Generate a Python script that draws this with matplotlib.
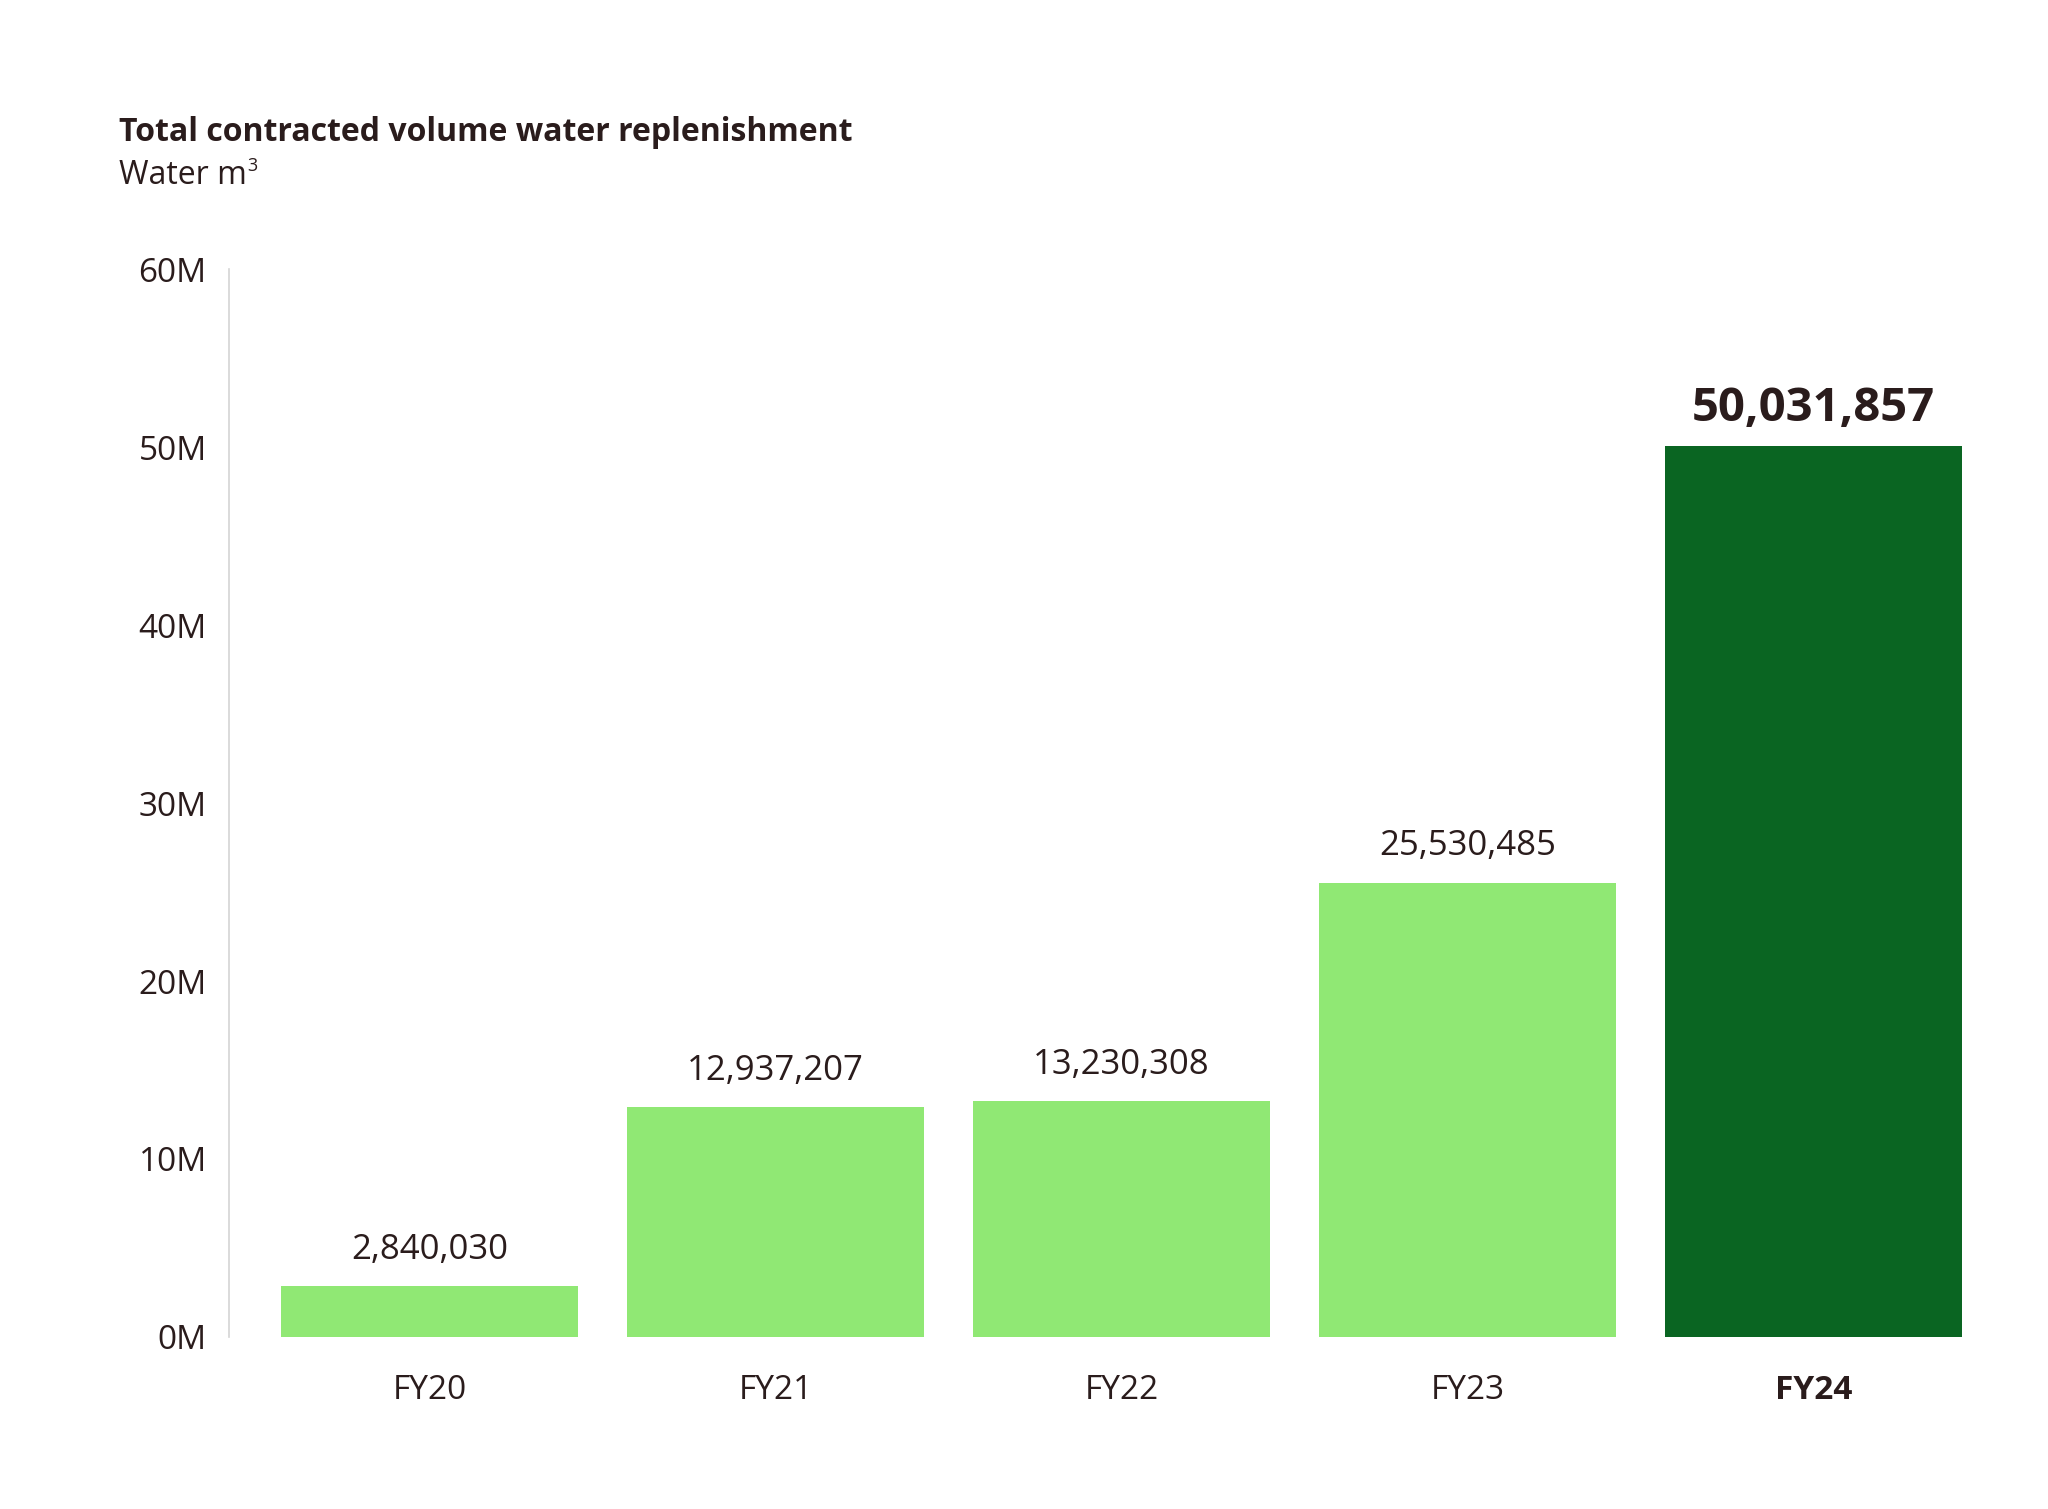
import numpy as np
import matplotlib
matplotlib.use('Agg')
import matplotlib.pyplot as plt
from matplotlib.ticker import FuncFormatter

plt.rcParams['font.family'] = ['Open Sans', 'DejaVu Sans']

# data
years = ['FY20', 'FY21', 'FY22', 'FY23', 'FY24']
volumes = [2840030, 12937207, 13230308, 25530485, 50031857]
highlight = [False, False, False, False, True]

text_color = '#2a1c1c'
light_green = '#90e874'
dark_green = '#0a6522'

fig = plt.figure(figsize=(20.48, 15.09), dpi=100)
ax = fig.add_axes([0.1118, 0.114, 0.8497, 0.7077])

x = np.arange(len(years))
colors = [dark_green if h else light_green for h in highlight]
ax.bar(x, volumes, width=0.86, color=colors)

for xi, v, h in zip(x, volumes, highlight):
    ax.annotate('{:,}'.format(v), (xi, v), xytext=(0, 27 if h else 26), textcoords='offset points',
                ha='center', va='center', color=text_color,
                fontsize=34 if h else 25, fontweight='bold' if h else 'normal')

ax.set_xlim(-0.58, 4.45)
ax.set_ylim(0, 60e6)
ax.set_yticks(np.arange(0, 60e6 + 1, 10e6))
ax.yaxis.set_major_formatter(FuncFormatter(lambda v, p: '%dM' % int(round(v / 1e6))))
ax.set_xticks(x)
ax.set_xticklabels(years)
for lbl, h in zip(ax.get_xticklabels(), highlight):
    if h:
        lbl.set_fontweight('bold')

ax.tick_params(axis='both', length=0, labelsize=24, labelcolor=text_color)
ax.tick_params(axis='x', pad=27)
ax.tick_params(axis='y', pad=16)

for s in ['top', 'right', 'bottom']:
    ax.spines[s].set_visible(False)
ax.spines['left'].set_color('#d4d4d4')
ax.spines['left'].set_linewidth(1.2)

fig.text(0.058, 0.912, 'Total contracted volume water replenishment', fontsize=23,
         fontweight='bold', color=text_color, va='center')
fig.text(0.058, 0.884, 'Water m', fontsize=23, color=text_color, va='center')
fig.text(0.1205, 0.890, '3', fontsize=13, color=text_color, va='center')

fig.savefig('out.png', dpi=100, facecolor='white')
